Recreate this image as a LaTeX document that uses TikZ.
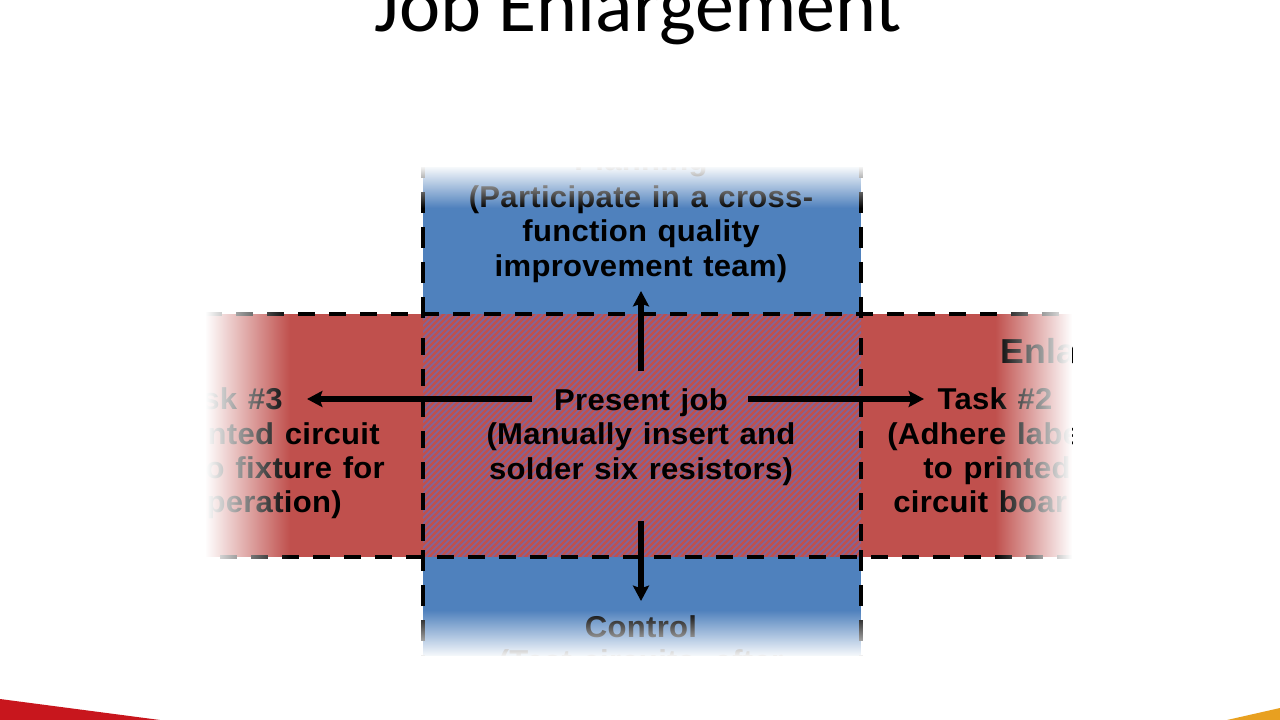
\documentclass[tikz,border=0pt]{standalone}
\usepackage{fontspec}
\setmainfont{Liberation Sans}
\newfontfamily\titlefont{Carlito}
\newfontfamily\labelfont[FakeStretch=1.03,LetterSpace=1,WordSpace=1.2]{Liberation Sans}
\usetikzlibrary{arrows.meta,fadings}
\definecolor{armred}{HTML}{C0504D}
\definecolor{armblue}{HTML}{4F81BD}
\definecolor{hatchblue}{HTML}{80659A}
\definecolor{slidered}{HTML}{C8161D}
\definecolor{slideorange}{HTML}{E8A020}
\tikzfading[name=opaquewest, left color=transparent!0, right color=transparent!100]
\tikzfading[name=opaqueeast, left color=transparent!100, right color=transparent!0]
\tikzfading[name=opaquenorth, top color=transparent!0, bottom color=transparent!100]
\tikzfading[name=opaquesouth, top color=transparent!100, bottom color=transparent!0]
\tikzset{
  x=0.75pt,y=-0.75pt,
  border/.style={draw=black,line width=2.7pt,dash pattern=on 12.7pt off 10.55pt},
  longborder/.style={draw=black,line width=2.7pt,dash pattern=on 15.75pt off 10.5pt},
  label/.style={inner sep=0pt,font=\labelfont\bfseries\fontsize{22.6}{25.9}\selectfont,text=black},
  block/.style={label,align=center},
  flow/.style={line width=5pt,-{Stealth[length=11.5pt,width=12pt,inset=2pt]}},
  veil/.style={fill=white,draw=none},
}
\begin{document}
\begin{tikzpicture}
\useasboundingbox (0,0) rectangle (1280,720);
\fill[white] (0,0) rectangle (1280,720);
\node[inner sep=0pt,anchor=base,font=\titlefont\fontsize{58.5}{58.5}\selectfont] (title) at (638,32) {Job Enlargement};
\fill[slidered] (0,699) -- (160,720) -- (0,720) -- cycle;
\fill[slideorange] (1280,708) -- (1280,720) -- (1227,720) -- cycle;
\begin{scope}
\clip (205,165) rectangle (1072,658);
\fill[armblue] (423,165) rectangle (861,658);
\fill[armred] (205,314) rectangle (1072,557);
\begin{scope}
\clip (423,314) rectangle (861,557);
\foreach \k in {0,6,...,690}
  \draw[hatchblue,line width=1.3pt] (180+\k,557) -- (423+\k,314);
\end{scope}
\draw[border] (205,314) -- (1072,314);
\draw[border] (189,557) -- (1072,557);
\foreach \side in {423,861} {
  \draw[longborder] (\side,157) -- (\side,318);
  \draw[border] (\side,338) -- (\side,545);
  \draw[longborder] (\side,550) -- (\side,676);
}
\node[label] (planning) at (641,163) {Planning};
\node[block] (plantext) at (641,234) {(Participate in a cross-\\function quality\\improvement team)};
\node[block] (present) at (641,437) {Present job\\(Manually insert and\\solder six resistors)};
\node[label] (control) at (641,627) {Control};
\node[label] (testtext) at (641,664) {(Test circuits, after};
\node[label,anchor=base east] (tl1) at (283,409) {sk \#3};
\node[label,anchor=base east] (tl2) at (380,444) {inted circuit};
\node[label,anchor=base east] (tl3) at (385,478) {o fixture for};
\node[label,anchor=base east] (tl4) at (342,512) {peration)};
\node[label,anchor=base] (tr1) at (995,409) {Task \#2};
\node[label,anchor=base west] (tr2) at (887,444) {(Adhere labe};
\node[label,anchor=base west] (tr3) at (923,478) {to printed};
\node[label,anchor=base west] (tr4) at (893,512) {circuit boar};
\node[label,anchor=base west,font=\labelfont\bfseries\fontsize{26}{30}\selectfont] (enla) at (1000,363) {Enla};
\coordinate (upstart) at (641,371);
\coordinate (uptip) at (641,291);
\coordinate (downstart) at (641,521);
\coordinate (downtip) at (641,601);
\coordinate (leftstart) at (532,399);
\coordinate (lefttip) at (307,399);
\coordinate (rightstart) at (748,399);
\coordinate (righttip) at (924,399);
\draw[flow] (upstart) -- (uptip);
\draw[flow] (downstart) -- (downtip);
\draw[flow] (leftstart) -- (lefttip);
\draw[flow] (rightstart) -- (righttip);
\end{scope}
\fill[veil,path fading=opaquewest] (205,305) rectangle (290,566);
\fill[veil,path fading=opaqueeast] (995,305) rectangle (1072,566);
\fill[veil,path fading=opaquenorth] (414,165) rectangle (870,208);
\fill[veil,path fading=opaquesouth] (414,610) rectangle (870,658);
\fill[veil] (414,160) rectangle (870,167);
\fill[veil] (414,656) rectangle (870,662);
\end{tikzpicture}
\end{document}
